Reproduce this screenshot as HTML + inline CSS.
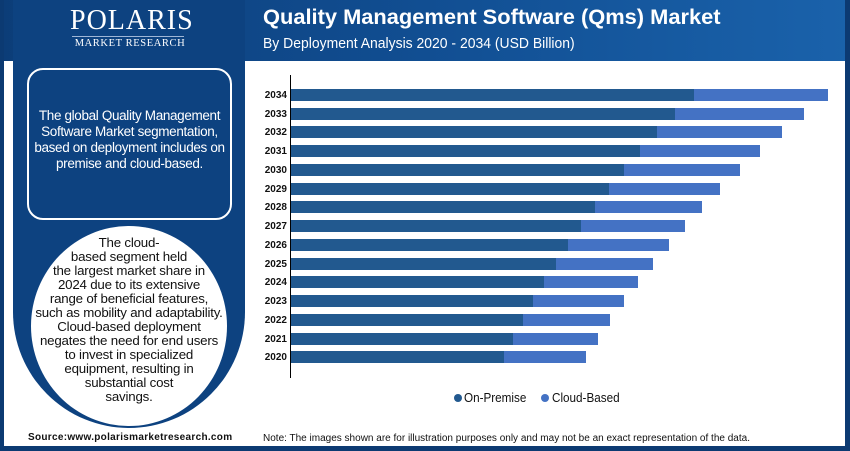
<!DOCTYPE html>
<html><head><meta charset="utf-8"><style>
body{margin:0;width:850px;height:451px;overflow:hidden;background:#fff;font-family:"Liberation Sans",Arial,sans-serif;position:relative}
.a{position:absolute}
</style></head><body>
<div class="a" style="left:0;top:0;width:850px;height:451px;box-sizing:border-box;border:3px solid #0c3a72;border-bottom-width:5px"></div>
<div class="a" style="left:0;top:0;width:850px;height:61px;background:linear-gradient(90deg,#0c3d78 0%,#114e92 50%,#1a62ab 100%)"></div>
<div class="a" style="left:845px;top:0;width:5px;height:451px;background:#0c3a72"></div>
<div class="a" style="left:13px;top:0;width:232px;height:428px;background:#0d4280;border-radius:0 0 116px 116px"></div>
<div class="a" style="left:0;top:0;width:4px;height:451px;background:#0c3a72"></div>
<div class="a" style="left:70px;top:6px;width:120px;text-align:center;color:#fff;font-family:'Liberation Serif',serif;font-size:28px;letter-spacing:1px;line-height:30px">POLARIS</div>
<div class="a" style="left:72px;top:36px;width:112px;height:1px;background:#9fb6d6"></div>
<div class="a" style="left:70px;top:38px;width:120px;text-align:center;color:#fff;font-family:'Liberation Serif',serif;font-size:10.5px;letter-spacing:0.6px">MARKET RESEARCH</div>
<div class="a" style="left:27px;top:68px;width:205px;height:152px;box-sizing:border-box;border:2px solid #fff;border-radius:16px"></div>
<div class="a" style="left:22px;top:108px;width:215px;text-align:center;color:#fff;font-size:13.5px;line-height:16px;letter-spacing:-0.35px">The global Quality Management Software Market segmentation, based on deployment includes on premise and cloud-based.</div>
<div class="a" style="left:31px;top:226px;width:196px;height:200px;background:#fff;border-radius:50%"></div>
<div class="a" style="left:20px;top:236px;width:218px;text-align:center;color:#111;font-size:13.3px;line-height:14px;letter-spacing:-0.2px">The cloud-<br>based segment held<br>the largest market share in<br>2024 due to its extensive<br>range of beneficial features,<br>such as mobility and adaptability.<br>Cloud-based deployment<br>negates the need for end users<br>to invest in specialized<br>equipment, resulting in<br>substantial cost<br>savings.</div>
<div class="a" style="left:28px;top:432px;color:#111;font-size:10px;font-weight:bold;letter-spacing:0.3px">Source:www.polarismarketresearch.com</div>
<div class="a" style="left:263px;top:6px;color:#fff;font-size:21px;font-weight:bold;white-space:nowrap;transform:scaleX(1.04);transform-origin:left">Quality Management Software (Qms) Market</div>
<div class="a" style="left:263px;top:35px;color:#fff;font-size:15px;white-space:nowrap;transform:scaleX(0.93);transform-origin:left">By Deployment Analysis 2020 - 2034 (USD Billion)</div>
<svg class="a" style="left:0;top:0" width="850" height="451">
<line x1="290.5" y1="75" x2="290.5" y2="378" stroke="#000" stroke-width="1"/>
<circle cx="458" cy="398" r="4" fill="#22598f"/>
<text x="464" y="402" font-size="13" fill="#111" font-family="Liberation Sans, Arial, sans-serif" transform="translate(464 0) scale(0.9 1) translate(-464 0)">On-Premise</text>
<circle cx="545" cy="398" r="4" fill="#4472c4"/>
<text x="552" y="402" font-size="13" fill="#111" font-family="Liberation Sans, Arial, sans-serif" transform="translate(552 0) scale(0.9 1) translate(-552 0)">Cloud-Based</text>
<text x="263" y="441" font-size="10" fill="#111" font-family="Liberation Sans, Arial, sans-serif" textLength="487" lengthAdjust="spacingAndGlyphs">Note: The images shown are for illustration purposes only and may not be an exact representation of the data.</text>
<g font-family="Liberation Sans, Arial, sans-serif" font-size="10" font-weight="bold" fill="#111" text-anchor="end">
<rect x="291" y="89" width="403" height="12" fill="#22598f"/><rect x="694" y="89" width="134" height="12" fill="#4472c4"/><text x="287" y="98">2034</text>
<rect x="291" y="108" width="384" height="12" fill="#22598f"/><rect x="675" y="108" width="129" height="12" fill="#4472c4"/><text x="287" y="117">2033</text>
<rect x="291" y="126" width="366" height="12" fill="#22598f"/><rect x="657" y="126" width="125" height="12" fill="#4472c4"/><text x="287" y="135">2032</text>
<rect x="291" y="145" width="349" height="12" fill="#22598f"/><rect x="640" y="145" width="120" height="12" fill="#4472c4"/><text x="287" y="154">2031</text>
<rect x="291" y="164" width="333" height="12" fill="#22598f"/><rect x="624" y="164" width="116" height="12" fill="#4472c4"/><text x="287" y="173">2030</text>
<rect x="291" y="183" width="318" height="12" fill="#22598f"/><rect x="609" y="183" width="111" height="12" fill="#4472c4"/><text x="287" y="192">2029</text>
<rect x="291" y="201" width="304" height="12" fill="#22598f"/><rect x="595" y="201" width="107" height="12" fill="#4472c4"/><text x="287" y="210">2028</text>
<rect x="291" y="220" width="290" height="12" fill="#22598f"/><rect x="581" y="220" width="104" height="12" fill="#4472c4"/><text x="287" y="229">2027</text>
<rect x="291" y="239" width="277" height="12" fill="#22598f"/><rect x="568" y="239" width="101" height="12" fill="#4472c4"/><text x="287" y="248">2026</text>
<rect x="291" y="258" width="265" height="12" fill="#22598f"/><rect x="556" y="258" width="97" height="12" fill="#4472c4"/><text x="287" y="267">2025</text>
<rect x="291" y="276" width="253" height="12" fill="#22598f"/><rect x="544" y="276" width="94" height="12" fill="#4472c4"/><text x="287" y="285">2024</text>
<rect x="291" y="295" width="242" height="12" fill="#22598f"/><rect x="533" y="295" width="91" height="12" fill="#4472c4"/><text x="287" y="304">2023</text>
<rect x="291" y="314" width="232" height="12" fill="#22598f"/><rect x="523" y="314" width="87" height="12" fill="#4472c4"/><text x="287" y="323">2022</text>
<rect x="291" y="333" width="222" height="12" fill="#22598f"/><rect x="513" y="333" width="85" height="12" fill="#4472c4"/><text x="287" y="342">2021</text>
<rect x="291" y="351" width="213" height="12" fill="#22598f"/><rect x="504" y="351" width="82" height="12" fill="#4472c4"/><text x="287" y="360">2020</text>
</g>
</svg>
</body></html>
